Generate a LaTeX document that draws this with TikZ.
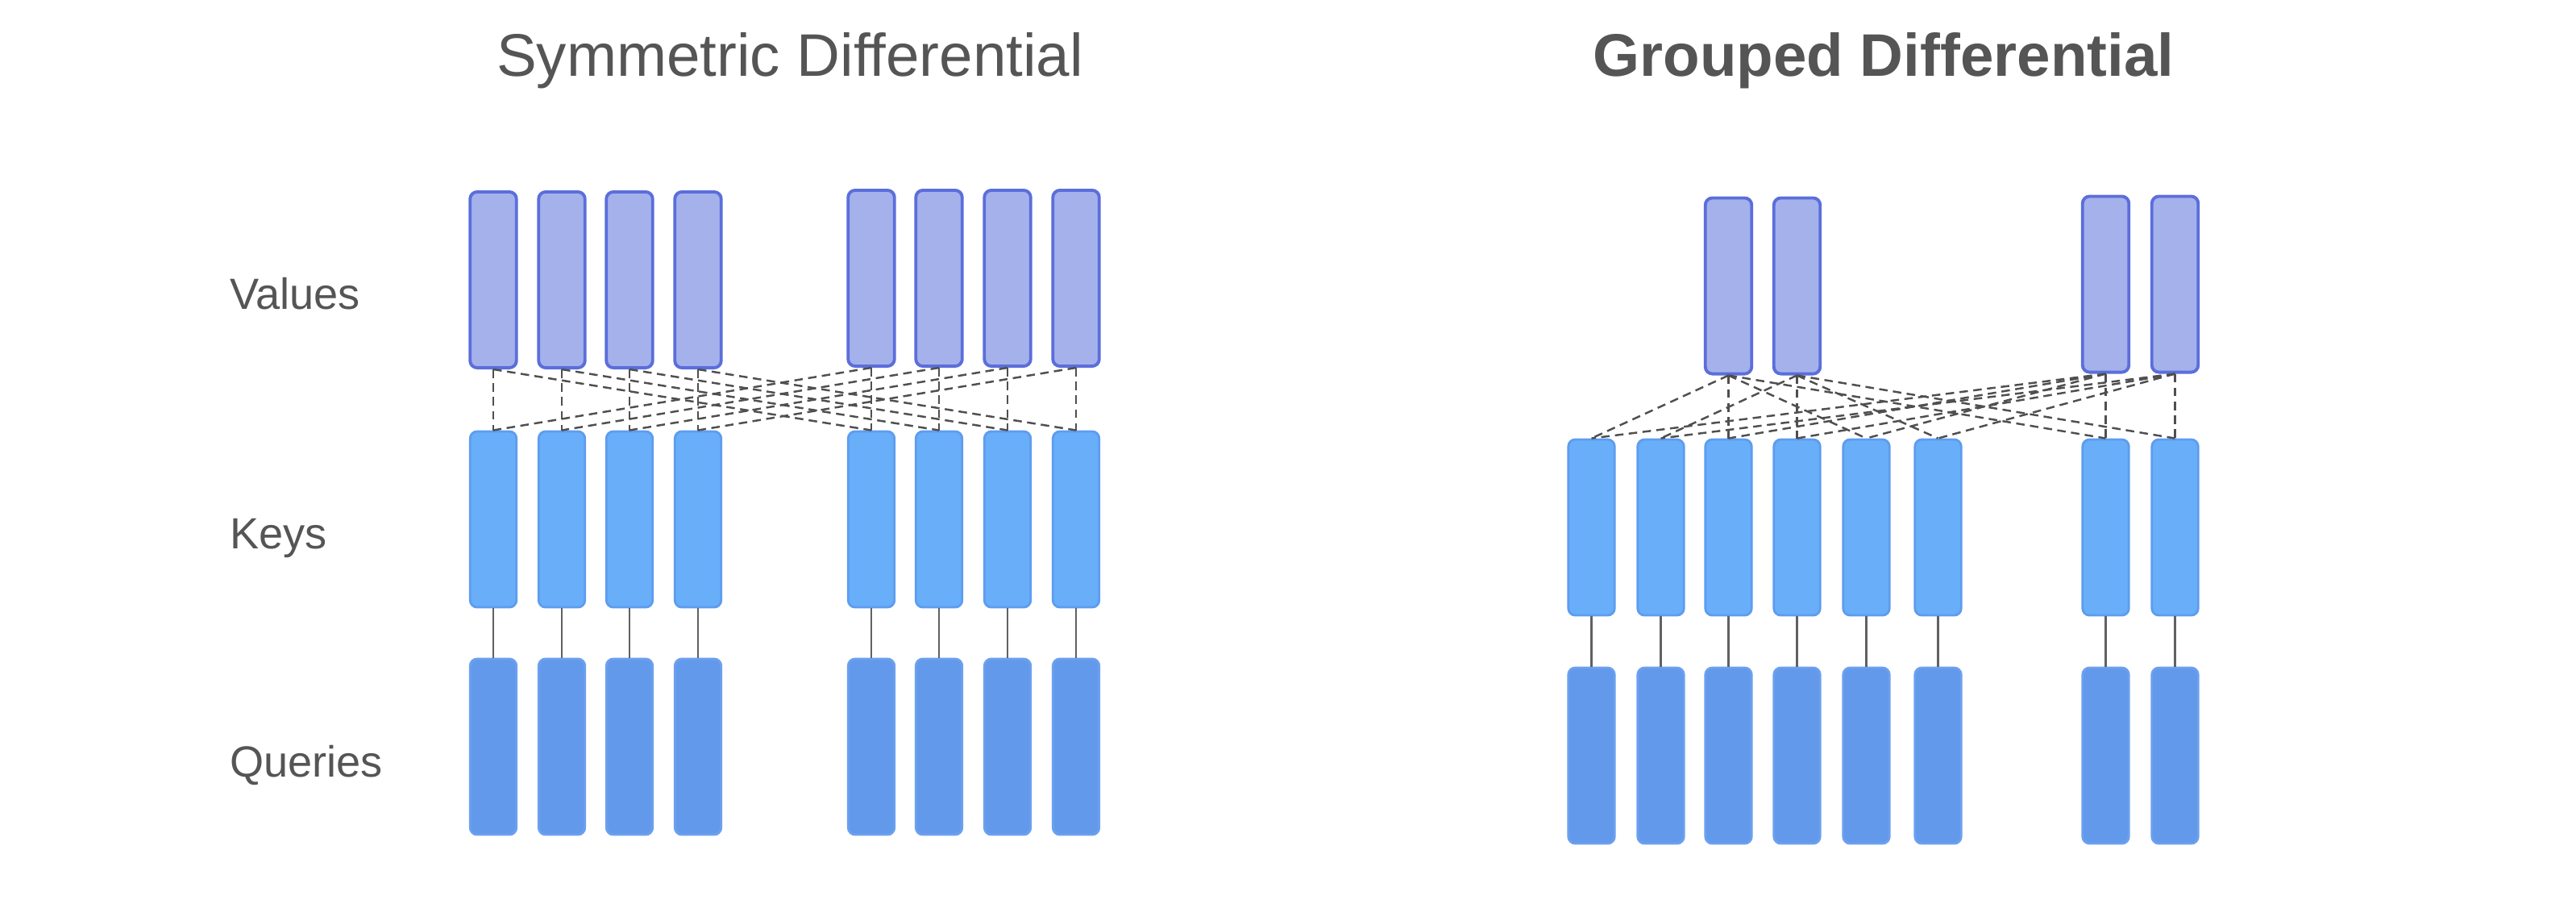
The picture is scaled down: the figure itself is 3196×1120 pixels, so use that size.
\documentclass[tikz,border=0pt]{standalone}
\usepackage{fontspec}
\setmainfont{Liberation Sans}
\definecolor{txt}{HTML}{555555}
\definecolor{vfill}{HTML}{A5B1EB}
\definecolor{vdraw}{HTML}{5B6EDB}
\definecolor{kfill}{HTML}{68AEF9}
\definecolor{kdraw}{HTML}{5E9CEF}
\definecolor{qfill}{HTML}{6399EA}
\definecolor{qdraw}{HTML}{6CA0EF}
\definecolor{lnk}{HTML}{4F4F4F}
\begin{document}
\begin{tikzpicture}[x=0.01cm,y=-0.01cm,
  box/.style={rectangle,rounded corners=2.5pt,minimum width=0.575cm,minimum height=2.18cm,inner sep=0pt},
  vbox/.style={box,fill=vfill,draw=vdraw,line width=1.1pt},
  kbox/.style={box,fill=kfill,draw=kdraw,line width=0.8pt},
  qbox/.style={box,fill=qfill,draw=qdraw,line width=0.8pt},
  dlink/.style={draw=lnk,line width=0.7pt,dash pattern=on 3pt off 1.9pt},
  slink/.style={draw=lnk!90,line width=0.65pt},
  title/.style={text=txt,font=\fontsize{21.2}{25}\selectfont,anchor=base},
  lab/.style={text=txt,font=\fontsize{15.4}{18}\selectfont,anchor=base west}]
\useasboundingbox (0,0) rectangle (3196,1120);
% titles and labels
\node[title] (t1) at (980,94) {Symmetric Differential};
\node[title,font=\fontsize{21.2}{25}\selectfont\bfseries] (t2) at (2337,94) {Grouped Differential};
\node[lab] (lv) at (273,383) {Values};
\node[lab] (lk) at (273,680) {Keys};
\node[lab] (lq) at (273,963) {Queries};
% symmetric boxes
\foreach \i/\x/\vy in {1/612/347,2/697/347,3/781/347,4/866/347,5/1081/345,6/1165/345,7/1250/345,8/1335/345}{
  \node[vbox] (sv\i) at (\x,\vy) {};
  \node[kbox] (sk\i) at (\x,644) {};
  \node[qbox] (sq\i) at (\x,926) {};
}
% grouped boxes
\foreach \i/\x in {1/1974.5,2/2060.5,3/2144.5,4/2229.5,5/2315.5,6/2404.5,7/2612.5,8/2698.5}{
  \node[kbox] (gk\i) at (\x,654) {};
  \node[qbox] (gq\i) at (\x,937) {};
}
\node[vbox] (gv1) at (2144.5,354.5) {};
\node[vbox] (gv2) at (2229.5,354.5) {};
\node[vbox] (gv3) at (2612.5,352.5) {};
\node[vbox] (gv4) at (2698.5,352.5) {};
% key-query links
\foreach \i in {1,...,8}{
  \draw[slink] (sk\i.south) -- (sq\i.north);
  \draw[slink] (gk\i.south) -- (gq\i.north);
}
% symmetric dashed links
\foreach \i/\j in {1/5,2/6,3/7,4/8,5/1,6/2,7/3,8/4}{
  \draw[dlink] (sv\i.south) -- (sk\i.north);
  \draw[dlink] (sv\i.south) -- (sk\j.north);
}
% grouped dashed links
\foreach \v/\k in {1/1,1/3,1/5,1/7,2/2,2/4,2/6,2/8,3/1,3/3,3/5,3/7,4/2,4/4,4/6,4/8}{
  \draw[dlink] (gv\v.south) -- (gk\k.north);
}
\end{tikzpicture}
\end{document}
